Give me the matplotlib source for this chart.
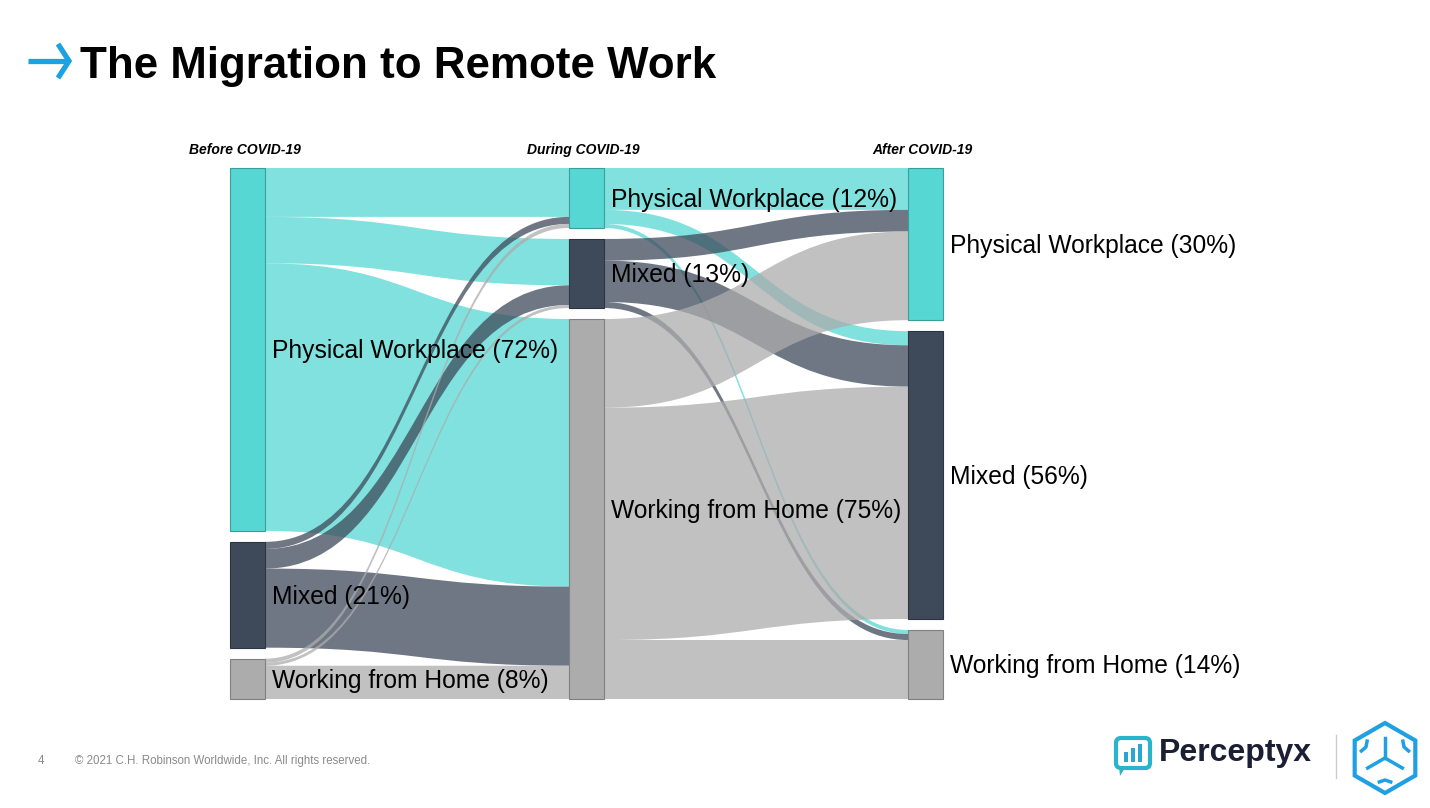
import numpy as np
import matplotlib
matplotlib.use('Agg')
import matplotlib.pyplot as plt
from matplotlib.path import Path
from matplotlib.patches import PathPatch, Rectangle, FancyBboxPatch, RegularPolygon, Polygon

plt.rcParams['font.family'] = ['Liberation Sans', 'DejaVu Sans']

# Data
stages = ['Before COVID-19', 'During COVID-19', 'After COVID-19']
categories = ['Physical Workplace', 'Mixed', 'Working from Home']
before_pct = [72, 21, 8]
during_pct = [12, 13, 75]
after_pct = [30, 56, 14]
# flows before -> during (rows: source, cols: target), % of respondents
flow_1 = [[9.7, 9.2, 53.1],
          [1.4, 3.9, 15.7],
          [0.8, 0.6, 6.6]]
# flows during -> after
flow_2 = [[8.3, 2.8, 0.8],
          [4.3, 8.2, 1.2],
          [17.6, 46.1, 11.7]]
pct_labels = [before_pct, during_pct, after_pct]

node_colors = ['#56d7d3', '#3e4a5a', '#acacac']
node_edges = ['#3a9f9c', '#2c3542', '#808080']

fig = plt.figure(figsize=(14.3, 8.08), dpi=100)
ax = fig.add_axes([0, 0, 1, 1])
ax.set_xlim(0, 1430)
ax.set_ylim(808, 0)
ax.axis('off')

# layout (pixels)
col_x = [230, 569, 908]
node_w = 35
top, bottom = 168, 699
gap = 11

f1 = np.array(flow_1)
f2 = np.array(flow_2)
col_vals = [f1.sum(axis=1), f1.sum(axis=0), f2.sum(axis=0)]
scale = (bottom - top - 2 * gap) / max(v.sum() for v in col_vals)

node_top = []
for vals in col_vals:
    tops = []
    y = top
    for v in vals:
        tops.append(y)
        y += v * scale + gap
    node_top.append(tops)


def draw_link(x0, y0, x1, y1, h, color):
    xm = (x0 + x1) / 2
    verts = [(x0, y0), (xm, y0), (xm, y1), (x1, y1),
             (x1, y1 + h), (xm, y1 + h), (xm, y0 + h), (x0, y0 + h), (x0, y0)]
    codes = [Path.MOVETO, Path.CURVE4, Path.CURVE4, Path.CURVE4,
             Path.LINETO, Path.CURVE4, Path.CURVE4, Path.CURVE4, Path.CLOSEPOLY]
    ax.add_patch(PathPatch(Path(verts, codes), facecolor=color, edgecolor='none',
                           alpha=0.75, zorder=1))


for k, flows in enumerate([f1, f2]):
    xs = col_x[k] + node_w
    xt = col_x[k + 1]
    out_off = list(node_top[k])
    in_off = list(node_top[k + 1])
    for i in range(3):
        for j in range(3):
            h = flows[i, j] * scale
            draw_link(xs, out_off[i], xt, in_off[j], h, node_colors[i])
            out_off[i] += h
            in_off[j] += h

# nodes and labels
for c in range(3):
    for i in range(3):
        h = col_vals[c][i] * scale
        ax.add_patch(Rectangle((col_x[c], node_top[c][i]), node_w, h,
                               facecolor=node_colors[i], edgecolor=node_edges[i],
                               lw=0.8, zorder=3))
        ax.text(col_x[c] + node_w + 7, node_top[c][i] + h / 2 + 2,
                f'{categories[i]} ({pct_labels[c][i]}%)', fontsize=17.7,
                va='center', ha='left', color='black', zorder=4)
    ax.text(col_x[c] + node_w / 2 - 3, 150, stages[c], fontsize=10,
            fontweight='bold', fontstyle='italic', ha='center', va='center',
            family=['Liberation Sans Narrow', 'Liberation Sans'])

# title with arrow
ax.plot([28, 67], [61, 61], color='#1aa3e0', lw=3.8, solid_capstyle='butt')
ax.plot([58, 69, 58], [44, 61, 78], color='#1aa3e0', lw=3.8,
        solid_joinstyle='miter', solid_capstyle='butt')
ax.text(80, 78, 'The Migration to Remote Work', fontsize=31.6, fontweight='bold',
        ha='left', va='baseline')

# footer
ax.text(38, 761, '4', fontsize=8.3, color='#8a8a8a', va='center')
ax.text(75, 761, '\u00a9 2021 C.H. Robinson Worldwide, Inc. All rights reserved.',
        fontsize=8.3, color='#8a8a8a', va='center')

# Perceptyx logo
ax.add_patch(FancyBboxPatch((1116, 738), 34, 30, boxstyle='round,pad=0,rounding_size=5',
                            facecolor='white', edgecolor='#2ab3cc', lw=3, zorder=5))
ax.add_patch(Polygon([[1119, 766], [1126, 766], [1120, 776]], closed=True,
                     facecolor='#2ab3cc', edgecolor='none', zorder=5))
for bx, bh in zip([1124, 1131, 1138], [10, 14, 18]):
    ax.add_patch(Rectangle((bx, 762 - bh), 4, bh, facecolor='#2aa6d4',
                           edgecolor='none', zorder=6))
ax.text(1159, 753, 'Perceptyx', fontsize=23, fontweight='bold', color='#1b1f33',
        ha='left', va='center')
ax.plot([1336, 1336], [735, 778], color='#cccccc', lw=1)

# hexagon logo
hx, hy = 1385, 758
ax.add_patch(RegularPolygon((hx, hy), numVertices=6, radius=35, orientation=0,
                            facecolor='none', edgecolor='#1fa0e2', lw=3))
for ang in [90, 210, 330]:
    a = np.deg2rad(ang)
    ax.plot([hx, hx + 20 * np.cos(a)], [hy, hy - 20 * np.sin(a)],
            color='#1fa0e2', lw=2.5)
for ang in [30, 150, 270]:
    a = np.deg2rad(ang)
    px, py = hx + 22 * np.cos(a), hy - 22 * np.sin(a)
    ax.plot([px - 6 * np.cos(a + 1.9), px, px - 6 * np.cos(a - 1.9)],
            [py + 6 * np.sin(a + 1.9), py, py + 6 * np.sin(a - 1.9)],
            color='#1fa0e2', lw=2.5)

fig.savefig('out.png', dpi=100)
